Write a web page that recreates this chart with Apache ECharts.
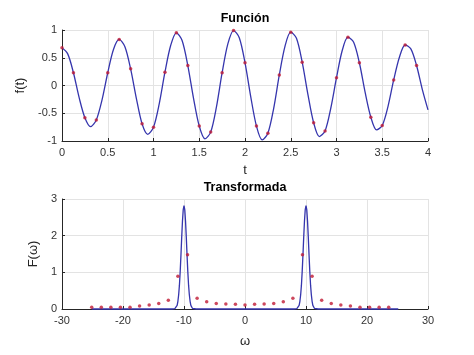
<!DOCTYPE html>
<html><head><meta charset="utf-8">
<script src="https://cdn.jsdelivr.net/npm/echarts@6/dist/echarts.min.js"></script>
<style>html,body{margin:0;padding:0;background:#fff}#c{width:474px;height:355px}</style>
</head><body><div id="c"></div>
<script>
// ---- Top plot: Función ----
const tFine = [0,0.0625,0.125,0.1875,0.25,0.3125,0.375,0.4375,0.5,0.5625,0.625,0.6875,0.75,0.8125,0.875,0.9375,
  1,1.0625,1.125,1.1875,1.25,1.3125,1.375,1.4375,1.5,1.5625,1.625,1.6875,1.75,1.8125,1.875,1.9375,
  2,2.0625,2.125,2.1875,2.25,2.3125,2.375,2.4375,2.5,2.5625,2.625,2.6875,2.75,2.8125,2.875,2.9375,
  3,3.0625,3.125,3.1875,3.25,3.3125,3.375,3.4375,3.5,3.5625,3.625,3.6875,3.75,3.8125,3.875,3.9375,4];
const fFine = [0.68,0.57,0.23,-0.22,-0.58,-0.74,-0.62,-0.26,0.23,0.65,0.83,0.70,0.30,-0.23,-0.69,-0.88,
  -0.75,-0.33,0.24,0.72,0.95,0.81,0.36,-0.23,-0.73,-0.96,-0.84,-0.39,0.23,0.75,0.99,0.86,
  0.41,-0.20,-0.73,-0.98,-0.86,-0.42,0.19,0.71,0.96,0.85,0.42,-0.16,-0.67,-0.92,-0.82,-0.41,
  0.14,0.63,0.87,0.78,0.41,-0.12,-0.57,-0.80,-0.72,-0.38,0.10,0.51,0.73,0.66,0.36,-0.07,-0.44];
const tSample = [0,0.125,0.25,0.375,0.5,0.625,0.75,0.875,1,1.125,1.25,1.375,1.5,1.625,1.75,1.875,
  2,2.125,2.25,2.375,2.5,2.625,2.75,2.875,3,3.125,3.25,3.375,3.5,3.625,3.75,3.875];
const fSample = [0.68,0.23,-0.58,-0.62,0.23,0.83,0.30,-0.69,-0.75,0.24,0.95,0.36,-0.73,-0.84,0.23,0.99,
  0.41,-0.73,-0.86,0.19,0.96,0.42,-0.67,-0.82,0.14,0.87,0.41,-0.57,-0.72,0.10,0.73,0.36];
const tTicks = [0,0.5,1,1.5,2,2.5,3,3.5,4];
const fTicks = [-1,-0.5,0,0.5,1];

// ---- Bottom plot: Transformada ----
const omegaFine = [-25.13,-12,-11.5,-11.375,-11.25,-11.125,-11,-10.875,-10.75,-10.625,-10.5,-10.375,-10.25,-10.125,
  -10,-9.875,-9.75,-9.625,-9.5,-9.375,-9.25,-9.125,-9,-8.875,-8.75,-8.625,-8.5,-8,
  8,8.5,8.625,8.75,8.875,9,9.125,9.25,9.375,9.5,9.625,9.75,9.875,
  10,10.125,10.25,10.375,10.5,10.625,10.75,10.875,11,11.125,11.25,11.375,11.5,12,25.13];
const FFine = [0,0,0.01,0.02,0.05,0.10,0.21,0.39,0.65,1.02,1.47,1.96,2.40,2.71,
  2.82,2.71,2.40,1.96,1.47,1.02,0.65,0.39,0.21,0.10,0.05,0.02,0.01,0,
  0,0.01,0.02,0.05,0.10,0.21,0.39,0.65,1.02,1.47,1.96,2.40,2.71,
  2.82,2.71,2.40,1.96,1.47,1.02,0.65,0.39,0.21,0.10,0.05,0.02,0.01,0,0];
const omegaSample = [-25.13,-23.56,-21.99,-20.42,-18.85,-17.28,-15.71,-14.14,-12.57,-11.00,-9.42,-7.85,-6.28,-4.71,-3.14,-1.57,
  0,1.57,3.14,4.71,6.28,7.85,9.42,11.00,12.57,14.14,15.71,17.28,18.85,20.42,21.99,23.56];
const FSample = [0.05,0.05,0.05,0.05,0.05,0.085,0.11,0.15,0.24,0.89,1.48,0.29,0.20,0.15,0.135,0.13,
  0.11,0.13,0.135,0.15,0.20,0.29,1.48,0.89,0.24,0.15,0.11,0.085,0.05,0.05,0.05,0.05];
const omegaTicks = [-30,-20,-10,0,10,20,30];
const FTicks = [0,1,2,3];

const FONT = 'Liberation Sans, Arial, Helvetica, sans-serif';
const AX = '#262626';
const LBL = '#333333';
const BLUE = '#3535ad';
const RED = '#c01a35';

function pairs(xs, ys){ return xs.map((x,i)=>[x, ys[i]]); }

function axis(gi, ticks, name, gap, isY){
  return {
    type:'value', gridIndex:gi,
    min: ticks[0], max: ticks[ticks.length-1],
    interval: ticks[1]-ticks[0],
    name: name, nameLocation:'middle', nameGap: gap,
    nameRotate: isY ? 90 : 0,
    nameTextStyle:{color:AX, fontFamily:FONT, fontSize:13},
    axisLine:{show:true, onZero:false, lineStyle:{color:AX, width:1}},
    axisTick:{show:true, inside:true, length:3, lineStyle:{color:AX}},
    axisLabel:{color:LBL, fontFamily:FONT, fontSize:11, margin: isY ? 5 : 6},
    splitLine:{show:true, lineStyle:{color:'#e3e3e3', width:1}}
  };
}

const chart = echarts.init(document.getElementById('c'), null, {renderer:'canvas'});
chart.setOption({
  animation:false,
  backgroundColor:'#fff',
  grid:[
    {left:62, right:46, top:30, height:111},
    {left:62, right:46, top:199, height:110}
  ],
  xAxis:[ axis(0, tTicks, 't', 23, false), axis(1, omegaTicks, 'ω', 26, false) ],
  yAxis:[ axis(0, fTicks, 'f(t)', 30, true), axis(1, FTicks, 'F(ω)', 18, true) ],
  graphic:[
    {type:'text', x:245, y:19, style:{text:'Función', font:'bold 12.5px '+FONT, fill:'#000', align:'center', verticalAlign:'middle'}},
    {type:'text', x:245, y:188, style:{text:'Transformada', font:'bold 12.5px '+FONT, fill:'#000', align:'center', verticalAlign:'middle'}}
  ],
  series:[
    {type:'line', xAxisIndex:0, yAxisIndex:0, data:pairs(tFine,fFine), smooth:0.3, showSymbol:false,
     lineStyle:{color:BLUE, width:1.3}, clip:false, z:3},
    {type:'scatter', xAxisIndex:0, yAxisIndex:0, data:pairs(tSample,fSample), symbolSize:3.5,
     itemStyle:{color:RED}, z:4},
    {type:'line', xAxisIndex:1, yAxisIndex:1, data:pairs(omegaFine,FFine), showSymbol:false,
     lineStyle:{color:BLUE, width:1.3}, clip:false, z:3},
    {type:'scatter', xAxisIndex:1, yAxisIndex:1, data:pairs(omegaSample,FSample), symbolSize:3.5,
     itemStyle:{color:RED}, z:4}
  ]
});
</script></body></html>
